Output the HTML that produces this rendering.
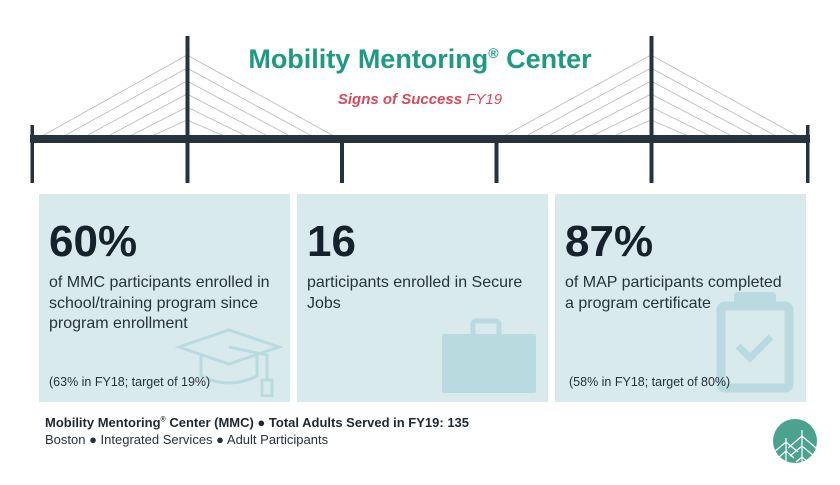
<!DOCTYPE html>
<html><head><meta charset="utf-8"><style>
body{margin:0;width:840px;height:485px;background:#fff;position:relative;overflow:hidden;font-family:"Liberation Sans",sans-serif;}
.abs{position:absolute}
.panel{position:absolute;top:194px;height:208px;background:#d9eaec}
.big{position:absolute;left:10px;top:23px;font-size:44px;font-weight:bold;color:#16222b;letter-spacing:0px}
.desc{position:absolute;left:10px;top:79px;font-size:16px;line-height:20.5px;color:#27323a}
.note{position:absolute;font-size:12.5px;color:#27323a}
</style></head><body>
<svg class="abs" style="left:0;top:0" width="840" height="190">
<g stroke="#b5b9bb" stroke-width="0.8">
<line x1="187" y1="55" x2="44" y2="135"/><line x1="187" y1="68" x2="66" y2="135"/><line x1="187" y1="81" x2="88" y2="135"/><line x1="187" y1="94" x2="110" y2="135"/><line x1="187" y1="107" x2="132" y2="135"/><line x1="187" y1="120" x2="154" y2="135"/>
<line x1="187" y1="55" x2="332" y2="135"/><line x1="187" y1="68" x2="310" y2="135"/><line x1="187" y1="81" x2="288" y2="135"/><line x1="187" y1="94" x2="266" y2="135"/><line x1="187" y1="107" x2="244" y2="135"/><line x1="187" y1="120" x2="222" y2="135"/>
<line x1="651" y1="55" x2="506" y2="135"/><line x1="651" y1="68" x2="528" y2="135"/><line x1="651" y1="81" x2="550" y2="135"/><line x1="651" y1="94" x2="572" y2="135"/><line x1="651" y1="107" x2="594" y2="135"/><line x1="651" y1="120" x2="616" y2="135"/>
<line x1="651" y1="55" x2="796" y2="135"/><line x1="651" y1="68" x2="774" y2="135"/><line x1="651" y1="81" x2="752" y2="135"/><line x1="651" y1="94" x2="730" y2="135"/><line x1="651" y1="107" x2="708" y2="135"/><line x1="651" y1="120" x2="686" y2="135"/>
</g>
<g fill="#26333d">
<rect x="30" y="135" width="780" height="8"/>
<rect x="185.5" y="36" width="4" height="147"/><rect x="649.5" y="36" width="4" height="147"/>
<rect x="30.5" y="125" width="3.5" height="58"/><rect x="806" y="125" width="3.5" height="58"/>
<rect x="340" y="143" width="4" height="40"/><rect x="494.5" y="143" width="4" height="40"/>
</g>
</svg>
<div class="abs" style="left:0;width:840px;top:44px;text-align:center;font-size:27px;font-weight:bold;color:#1e9a83">Mobility Mentoring<sup style="font-size:14px">®</sup> Center</div>
<div class="abs" style="left:0;width:840px;top:91px;text-align:center;font-size:15px;font-weight:bold;font-style:italic;color:#d9485a">Signs of Success <span style="font-weight:normal">FY19</span></div>

<div class="panel" style="left:39px;width:251px">
<svg class="abs" style="left:135px;top:128px" width="110" height="75"><g fill="none" stroke="#b9dbdf" stroke-width="3"><polygon points="5,25 55,8 105,25 55,42"/><path d="M27,34 v20 q28,14 56,0 v-20"/><path d="M55,25 l38,8 v25"/><rect x="88" y="58" width="10" height="16"/></g></svg>
<div class="big">60%</div>
<div class="desc">of MMC participants enrolled in<br>school/training program since<br>program enrollment</div>
<div class="note" style="left:10px;top:181px">(63% in FY18; target of 19%)</div>
</div>

<div class="panel" style="left:297px;width:251px">
<svg class="abs" style="left:143px;top:124px" width="98" height="76"><rect x="33" y="3" width="26" height="16" rx="3" fill="none" stroke="#b9dbdf" stroke-width="5"/><rect x="2" y="16" width="94" height="59" rx="2" fill="#b9dbdf"/></svg>
<div class="big">16</div>
<div class="desc">participants enrolled in Secure<br>Jobs</div>
</div>

<div class="panel" style="left:555px;width:251px">
<svg class="abs" style="left:161px;top:96px" width="80" height="104"><rect x="5" y="16" width="68" height="82" rx="4" fill="none" stroke="#b9dbdf" stroke-width="9"/><rect x="18" y="2" width="42" height="14" rx="3" fill="#b9dbdf"/><path d="M22,56 l12,12 l21,-21" fill="none" stroke="#b9dbdf" stroke-width="7"/></svg>
<div class="big">87%</div>
<div class="desc">of MAP participants completed<br>a program certificate</div>
<div class="note" style="left:14px;top:181px">(58% in FY18; target of 80%)</div>
</div>

<div class="abs" style="left:45px;top:415px;font-size:13px;font-weight:bold;color:#1e2830">Mobility Mentoring<sup style="font-size:7px">®</sup> Center (MMC) ● Total Adults Served in FY19: 135</div>
<div class="abs" style="left:45px;top:432px;font-size:13px;color:#27323a">Boston ● Integrated Services ● Adult Participants</div>
<svg class="abs" style="left:772px;top:418px" width="46" height="46"><circle cx="23" cy="23" r="22" fill="#4ba38e"/><g stroke="#fff" stroke-width="1.2" fill="none"><line x1="14" y1="20" x2="14" y2="44"/><line x1="30" y1="12" x2="30" y2="44"/><path d="M2,34 l12,-10 l12,10 M6,40 l8,-7 l8,7 M16,30 l14,-12 l14,12 M18,38 l12,-10 l12,10 M24,44 l6,-5 l6,5"/></g></svg>
</body></html>
